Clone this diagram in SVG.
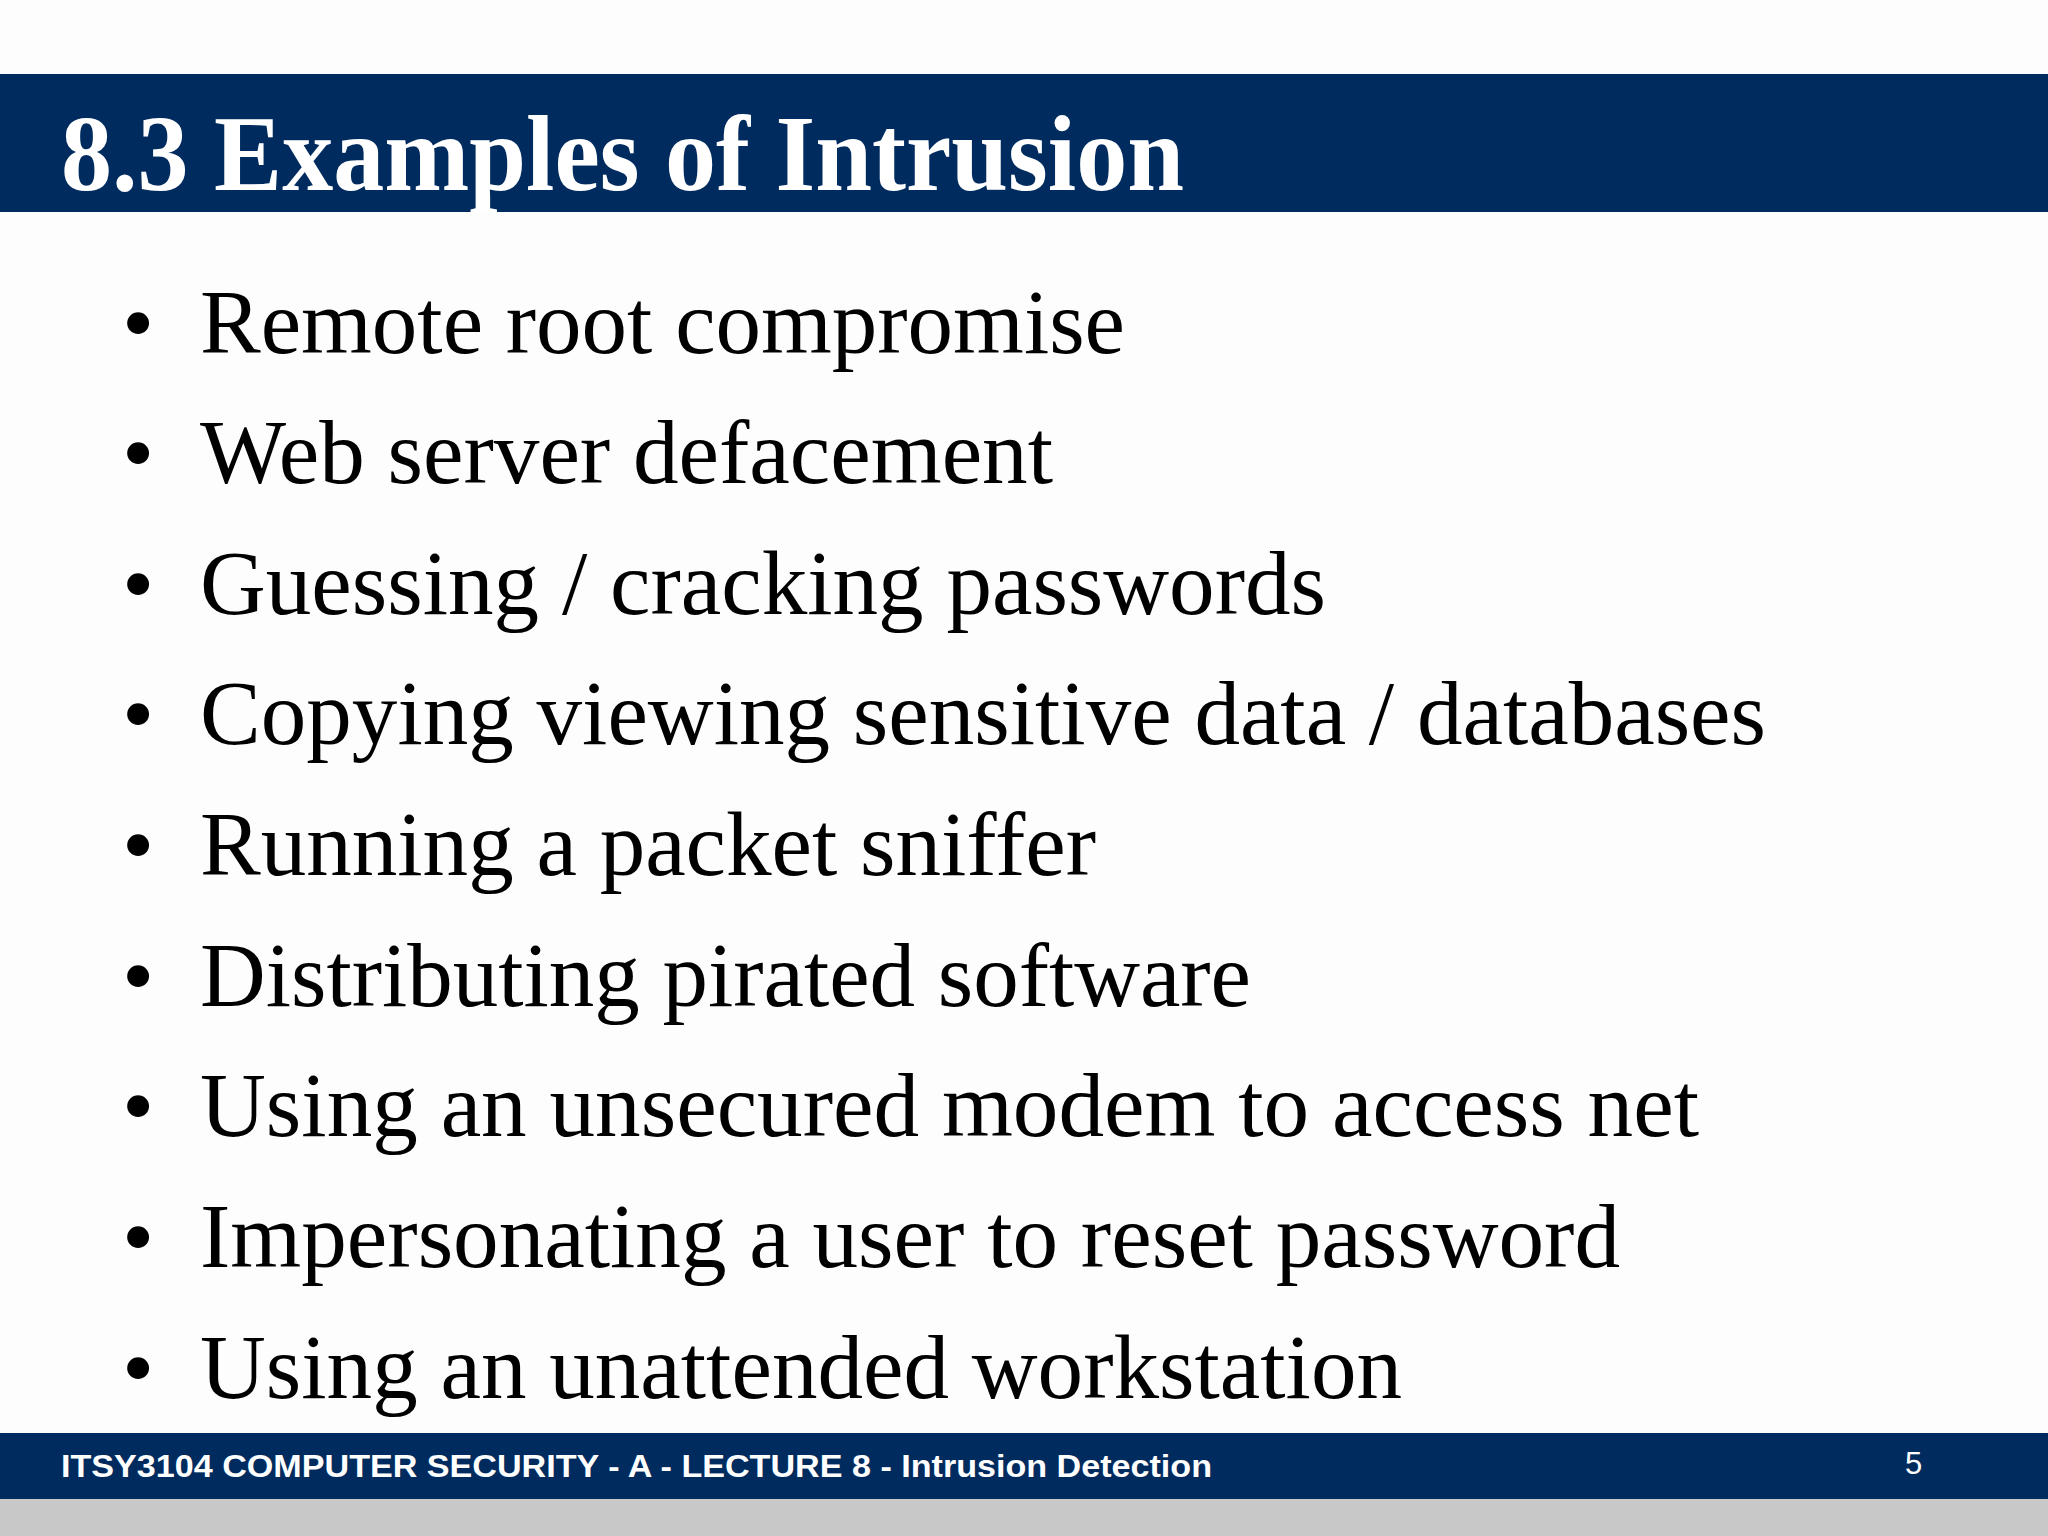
<svg xmlns="http://www.w3.org/2000/svg" width="2048" height="1536" viewBox="0 0 2048 1536">
<style>
.b{font-family:"Liberation Serif",serif;font-size:92px;fill:#000}
.f{font-family:"Liberation Sans",sans-serif;font-weight:bold;font-size:31px;fill:#fff}
</style>
<rect width="2048" height="1536" fill="#fdfdfd"/>
<rect y="74" width="2048" height="138" fill="#002b5f"/>
<text x="61" y="190" font-family="Liberation Serif,serif" font-weight="bold" font-size="108" fill="#fff" textLength="1123" lengthAdjust="spacingAndGlyphs">8.3 Examples of Intrusion</text>
<g id="bullets">
<text class="b" x="122" y="353">•</text><text class="b" x="200" y="353" textLength="925" lengthAdjust="spacingAndGlyphs">Remote root compromise</text>
<text class="b" x="122" y="483">•</text><text class="b" x="200" y="483" textLength="853" lengthAdjust="spacingAndGlyphs">Web server defacement</text>
<text class="b" x="122" y="614">•</text><text class="b" x="200" y="614" textLength="1126" lengthAdjust="spacingAndGlyphs">Guessing / cracking passwords</text>
<text class="b" x="122" y="744">•</text><text class="b" x="200" y="744" textLength="1566" lengthAdjust="spacingAndGlyphs">Copying viewing sensitive data / databases</text>
<text class="b" x="122" y="875">•</text><text class="b" x="200" y="875" textLength="896" lengthAdjust="spacingAndGlyphs">Running a packet sniffer</text>
<text class="b" x="122" y="1006">•</text><text class="b" x="200" y="1006" textLength="1051" lengthAdjust="spacingAndGlyphs">Distributing pirated software</text>
<text class="b" x="122" y="1136">•</text><text class="b" x="200" y="1136" textLength="1499" lengthAdjust="spacingAndGlyphs">Using an unsecured modem to access net</text>
<text class="b" x="122" y="1267">•</text><text class="b" x="200" y="1267" textLength="1420" lengthAdjust="spacingAndGlyphs">Impersonating a user to reset password</text>
<text class="b" x="122" y="1398">•</text><text class="b" x="200" y="1398" textLength="1202" lengthAdjust="spacingAndGlyphs">Using an unattended workstation</text>
</g>
<rect y="1433" width="2048" height="66" fill="#002b5f"/>
<rect y="1499" width="2048" height="37" fill="#c8c8c8"/>
<text class="f" x="61" y="1477" textLength="1151" lengthAdjust="spacingAndGlyphs">ITSY3104 COMPUTER SECURITY - A - LECTURE 8 - Intrusion Detection</text>
<text x="1905" y="1474" font-family="Liberation Sans,sans-serif" font-size="31" fill="#fff">5</text>
</svg>
